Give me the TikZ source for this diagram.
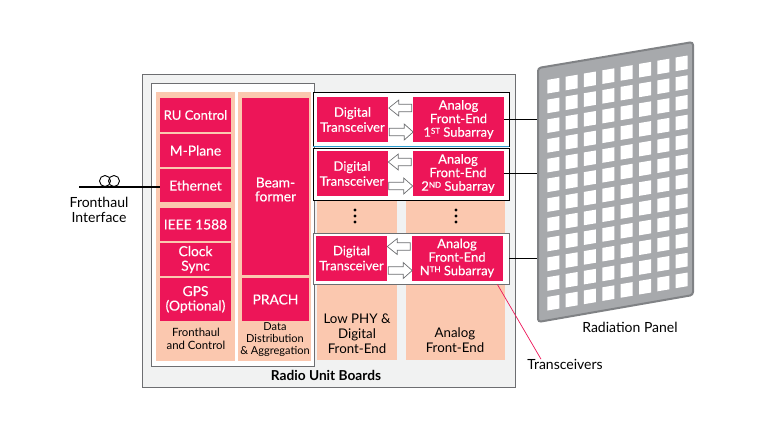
\documentclass[tikz,border=0pt]{standalone}
\usepackage{fontspec}
\setmainfont{Lato}
\newfontfamily\redfont[FakeBold=0.3]{Lato}
\newcommand{\ordsup}[1]{\smash{\raisebox{3pt}{\fontsize{8}{8}\selectfont #1}}}
\definecolor{rured}{HTML}{ED1558}
\definecolor{rupeach}{HTML}{FBC8AF}
\definecolor{rugray}{HTML}{F1F2F2}
\definecolor{ruline}{HTML}{6D6E71}
\definecolor{rublue}{HTML}{2B9CD0}
\definecolor{panelgray}{HTML}{A7A9AC}
\definecolor{paneledge}{HTML}{808285}
\tikzset{
	redbox/.style={fill=rured,text=white,inner sep=0pt,align=center,font=\redfont\fontsize{13.8}{14.5}\selectfont},
	ctlbox/.style={redbox,minimum width=71pt},
	digbox/.style={redbox,minimum width=71pt,minimum height=45pt,font=\redfont\fontsize{13}{15}\selectfont},
	anabox/.style={redbox,minimum width=91pt,minimum height=45pt,font=\redfont\fontsize{13}{13.5}\selectfont},
	trxbox/.style={draw=black,fill=white,line width=0.7pt,minimum width=196pt,inner sep=0pt},
	peach/.style={fill=rupeach,inner sep=0pt},
	caption/.style={align=center,inner sep=0pt,font=\fontsize{11}{12}\selectfont},
	collabel/.style={align=center,inner sep=0pt,font=\fontsize{13.3}{15}\selectfont},
	outlabel/.style={align=center,inner sep=0pt,font=\fontsize{14}{15}\selectfont},
	hollow/.style={draw=ruline,fill=white,line width=0.7pt},
	tie/.style={draw=black,line width=0.9pt},
	vdot/.style={circle,fill=black,inner sep=0pt,minimum size=3.4pt},
}
\begin{document}
\begin{tikzpicture}[x=1pt,y=-1pt]
	\useasboundingbox (0,0) rectangle (768,432);

	% Boards
	\node[draw=ruline,fill=rugray,line width=0.9pt,inner sep=0pt,minimum width=373pt,minimum height=313pt] (board) at (328.5,230.5) {};
	\node[draw=ruline,fill=white,line width=0.9pt,inner sep=0pt,minimum width=163pt,minimum height=283pt] (inner) at (232.5,224.5) {};
	\node[font=\fontsize{13.7}{15}\selectfont\bfseries,inner sep=0pt] (boardname) at (326,375) {Radio Unit Boards};

	% Columns
	\node[peach,minimum width=79pt,minimum height=269pt] (col1) at (195.5,226.5) {};
	\node[peach,minimum width=73pt,minimum height=269pt] (col2) at (274.5,226.5) {};
	\node[peach,minimum width=80pt,minimum height=160pt] (col3) at (357,280) {};
	\node[peach,minimum width=99pt,minimum height=160pt] (col4) at (455.5,280) {};

	% Fronthaul and control
	\node[ctlbox,minimum height=34pt,font=\redfont\fontsize{13}{14}\selectfont] (ructl) at (195.5,115) {RU Control};
	\node[ctlbox,minimum height=33pt] (mplane) at (195.5,150.5) {M-Plane};
	\node[ctlbox,minimum height=33pt] (eth) at (195.5,185.5) {Ethernet};
	\node[ctlbox,minimum height=33pt] (ieee) at (195.5,224.5) {IEEE 1588};
	\node[ctlbox,minimum height=33pt] (clock) at (195.5,259.5) {Clock\\Sync};
	\node[ctlbox,minimum height=43pt] (gps) at (195.5,299.5) {GPS\\(Optional)};
	\node[caption,font=\fontsize{11.4}{12.5}\selectfont] (fhcap) at (196,339) {Fronthaul\\and Control};

	% Data distribution
	\node[redbox,minimum width=67pt,minimum height=177pt] (beam) at (275.5,186.5) {};
	\node[redbox,fill=none,font=\redfont\fontsize{13.8}{14}\selectfont] (beamtext) at (275.5,189.5) {Beam-\\former};
	\node[redbox,minimum width=67pt,minimum height=43pt] (prach) at (275.5,299.5) {PRACH};
	\node[caption] (ddcap) at (275,340) {Data\\Distribution\\\&~Aggregation};

	% Column captions
	\node[collabel] (phy) at (357,334) {Low PHY \&\\Digital\\Front-End};
	\node[collabel] (afe) at (455,340) {Analog\\Front-End};
	\foreach \c/\x in {a/355,b/456}
		\foreach \r/\y in {1/210,2/216,3/222}
			\node[vdot] (dot\c\r) at (\x,\y) {};

	% Transceivers
	\node[trxbox,minimum height=54pt] (trx1) at (411,119) {};
	\draw[rublue,line width=1.6pt] (trx1.south west) -- (trx1.south east);
	\node[trxbox,minimum height=52pt] (trx2) at (411,174) {};
	\node[trxbox,draw=ruline,minimum height=51pt] (trx3) at (411,258.5) {};

	\node[digbox] (dig1) at (352.5,119.5) {Digital\\Transceiver};
	\node[anabox] (ana1) at (458.5,119.5) {Analog\\Front-End\\1\ordsup{ST} Subarray};
	\node[digbox] (dig2) at (352,173.5) {Digital\\Transceiver};
	\node[anabox] (ana2) at (458,173.5) {Analog\\Front-End\\2\ordsup{ND} Subarray};
	\node[digbox] (dig3) at (351.5,258) {Digital\\Transceiver};
	\node[anabox] (ana3) at (457,258) {Analog\\Front-End\\N\ordsup{TH} Subarray};

	\foreach \i in {1,2,3} {
		\draw[hollow] ([yshift=11.5pt]ana\i.west) ++(-1,-3.7) -- ++(-13,0) -- ++(0,-4.3) -- ++(-10,8) -- ++(10,8) -- ++(0,-4.3) -- ++(13,0) -- cycle;
		\draw[hollow] ([yshift=-12.5pt]dig\i.east) ++(1,-3.7) -- ++(15,0) -- ++(0,-4.3) -- ++(9,8) -- ++(-9,8) -- ++(0,-4.3) -- ++(-15,0) -- cycle;
	}

	% Panel
	\draw[fill=panelgray,draw=paneledge,line width=2pt,rounded corners=3pt] (538,68) -- (693,42) -- (693,295) -- (538,322) -- cycle;
	\foreach \i in {0,...,7}
		\foreach \j in {0,...,11}
			\fill[white,shift={(553.3+18.34*\i,85.7-3.2*\i+19.73*\j)}] (-6,-5.8) -- (6,-7.8) -- (6,5.8) -- (-6,7.8) -- cycle;
	\coordinate (panelw) at (537,0);
	\node[outlabel] (panelname) at (630,327) {Radiation Panel};

	% Lines to panel
	\draw[tie] (ana1.east) -- (ana1.east -| panelw);
	\draw[tie] (ana2.east) -- (ana2.east -| panelw);
	\draw[tie] (trx3.east) -- (trx3.east -| panelw);

	% Fronthaul
	\coordinate (fhend) at (79,187);
	\draw[black,line width=1.2pt] (fhend) -- (eth.west |- fhend);
	\node[draw=black,line width=0.9pt,circle,inner sep=0pt,minimum size=11pt] (loop1) at (105,181) {};
	\node[draw=black,line width=0.9pt,circle,inner sep=0pt,minimum size=11pt] (loop2) at (114,181) {};
	\node[outlabel] (fhname) at (99,209.5) {Fronthaul\\Interface};

	% Transceivers label
	\node[outlabel] (trxname) at (565,364.5) {Transceivers};
	\draw[rured,line width=0.7pt] ([xshift=-12pt]trx3.south east) -- ([xshift=-24pt]trxname.north);
\end{tikzpicture}
\end{document}
